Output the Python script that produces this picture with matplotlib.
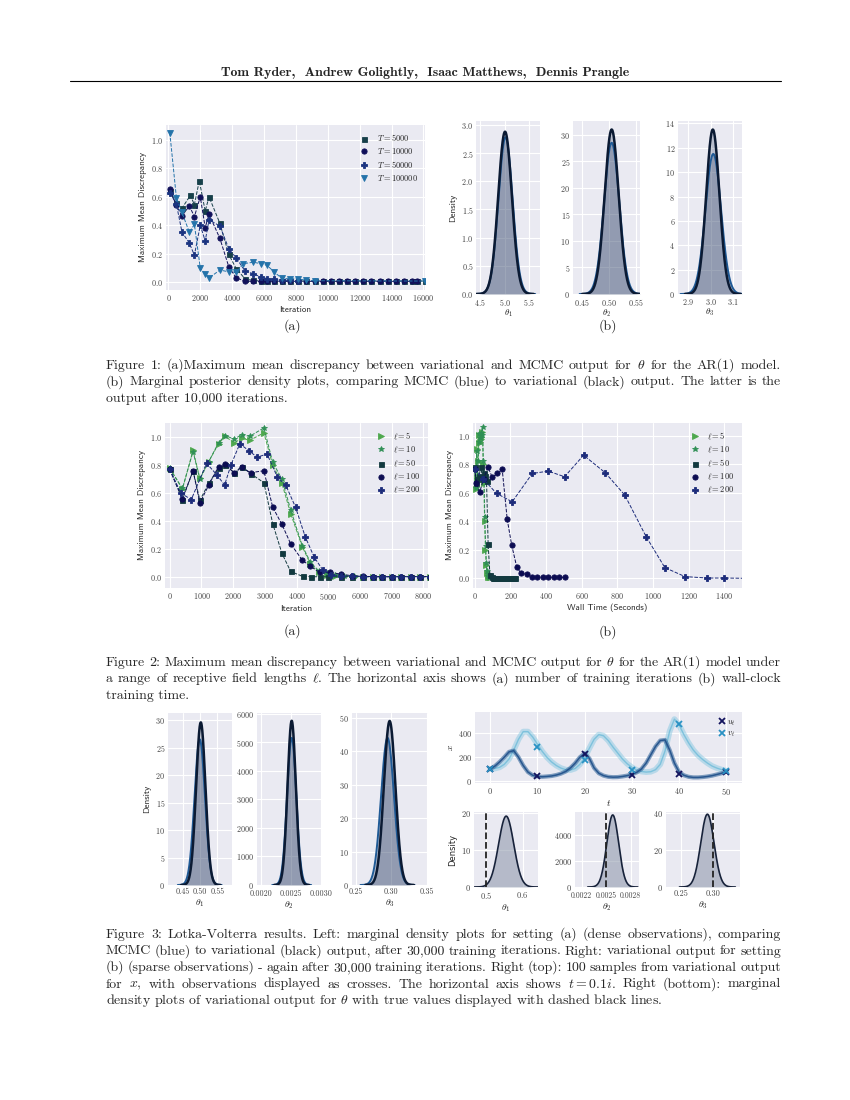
import numpy as np
import matplotlib
matplotlib.use("Agg")
import matplotlib.pyplot as plt
import seaborn as sns

sns.set_style("darkgrid")
plt.rcParams["font.family"] = ["cmr10", "DejaVu Serif"]
plt.rcParams["mathtext.fontset"] = "cm"
plt.rcParams["axes.formatter.use_mathtext"] = True
plt.rcParams["axes.unicode_minus"] = False
plt.rcParams["grid.linewidth"] = 0.8

SANS = ["cmss10", "DejaVu Sans"]
W, H = 850, 1100

# ---------------- Figure 1 (a): MMD vs iteration for different T ----------------
t5000_it = [90, 500, 850, 1380, 1630, 1940, 2310, 2550, 3230, 3790, 4260, 4810,
            5320, 5830, 6200, 6620, 7130, 7640, 8150, 8660, 9170, 9680, 10190,
            10700, 11210, 11720, 12230, 12740, 13250, 13760, 14270, 14780, 15290, 15600, 16100]
t5000_mmd = [0.64, 0.555, 0.52, 0.61, 0.545, 0.713, 0.50, 0.60, 0.414, 0.195, 0.094, 0.024,
             0.012, 0.01, 0.008, 0.008, 0.008, 0.008, 0.008, 0.008, 0.008, 0.008, 0.008,
             0.008, 0.008, 0.008, 0.008, 0.008, 0.008, 0.008, 0.008, 0.008, 0.008, 0.008, 0.008]
t10000_it = [90, 500, 850, 1320, 1630, 2000, 2310, 2550, 3230, 3790, 4260, 4810,
             5320, 5830, 6200, 6620, 7130, 7640, 8150, 8660, 9170, 9680, 10190,
             10700, 11210, 11720, 12230, 12740, 13250, 13760, 14270, 14780, 15290, 15600]
t10000_mmd = [0.654, 0.54, 0.466, 0.536, 0.46, 0.60, 0.384, 0.478, 0.308, 0.108, 0.03, 0.007,
              0.006, 0.006, 0.006, 0.006, 0.006, 0.006, 0.006, 0.006, 0.006, 0.006, 0.006,
              0.006, 0.006, 0.006, 0.006, 0.006, 0.006, 0.006, 0.006, 0.006, 0.006, 0.006]
t50000_it = [90, 500, 850, 1320, 1630, 2000, 2310, 2550, 3230, 3790, 4260, 4810,
             5320, 5830, 6200, 6620, 7130, 7640, 8150]
t50000_mmd = [0.63, 0.55, 0.353, 0.273, 0.19, 0.40, 0.29, 0.438, 0.395, 0.235, 0.17, 0.078,
              0.06, 0.035, 0.025, 0.02, 0.015, 0.012, 0.01]
t100000_it = [90, 500, 850, 1320, 1630, 2000, 2310, 2550, 3230, 3790, 4260, 4710,
              5320, 5830, 6200, 6620, 7130, 7640, 8150, 8660, 9170, 16100]
t100000_mmd = [1.05, 0.595, 0.49, 0.35, 0.407, 0.10, 0.055, 0.03, 0.085, 0.073, 0.07, 0.13,
               0.14, 0.13, 0.118, 0.073, 0.026, 0.024, 0.024, 0.012, 0.01, 0.008]

# ---------------- Figure 1 (b): marginal densities (mean, sd) ----------------
ar_theta_mcmc = [(5.02, 0.1435), (0.505, 0.0140), (3.012, 0.0347)]
ar_theta_var = [(5.01, 0.1385), (0.505, 0.01287), (3.010, 0.02955)]
ar_xlim = [(4.42, 5.72), (0.434, 0.557), (2.855, 3.14)]
ar_ylim = [3.07, 32.6, 14.2]
ar_xticks = [[4.5, 5.0, 5.5], [0.45, 0.50, 0.55], [2.9, 3.0, 3.1]]
ar_yticks = [[0.0, 0.5, 1.0, 1.5, 2.0, 2.5, 3.0], [0, 5, 10, 15, 20, 25, 30],
             [0, 2, 4, 6, 8, 10, 12, 14]]

# ---------------- Figure 2: MMD for receptive field lengths ----------------
l5_it = [0, 400, 735, 950, 1230, 1540, 1750, 2040, 2265, 2520, 2970, 3250, 3540, 3815,
         4180, 4440, 4700, 4950, 5200, 5500, 5800, 6100, 6400, 6700, 7000, 7300, 7600, 7900, 8200]
l5_mmd = [0.777, 0.63, 0.905, 0.706, 0.825, 0.952, 1.005, 0.957, 0.993, 0.976, 1.03, 0.80, 0.67, 0.455,
          0.22, 0.096, 0.036, 0.02, 0.01, 0.008, 0.006, 0.006, 0.006, 0.006, 0.006, 0.006, 0.006, 0.006, 0.006]
l10_it = [0, 400, 735, 950, 1230, 1540, 1750, 2040, 2265, 2520, 2970, 3250, 3540, 3815,
          4180, 4440, 4700, 4950, 5200, 5500, 5800, 6100, 6400, 6700, 7000, 7300, 7600, 7900, 8200]
l10_mmd = [0.777, 0.634, 0.897, 0.70, 0.825, 0.96, 1.01, 0.985, 1.017, 1.005, 1.065, 0.82, 0.70, 0.483,
           0.227, 0.108, 0.048, 0.03, 0.015, 0.01, 0.008, 0.006, 0.006, 0.006, 0.006, 0.006, 0.006, 0.006, 0.006]
l50_it = [0, 400, 735, 950, 1230, 1540, 1750, 2040, 2265, 2550, 2970, 3250, 3540, 3815,
          4200, 4460, 4730, 5000, 5400, 5750, 6100, 6400, 6700, 7000, 7300, 7600, 7900, 8200]
l50_mmd = [0.77, 0.555, 0.76, 0.55, 0.67, 0.777, 0.80, 0.746, 0.79, 0.74, 0.675, 0.383, 0.172, 0.043,
           0.007, 0.005, 0.005, 0.005, 0.005, 0.005, 0.005, 0.005, 0.005, 0.005, 0.005, 0.005, 0.005, 0.005]
l100_it = [0, 400, 735, 950, 1230, 1540, 1750, 2040, 2265, 2550, 2970, 3250, 3540, 3815,
           4180, 4440, 4730, 5050, 5400, 5750, 6100, 6400, 6700, 7000, 7300, 7600, 7900, 8200]
l100_mmd = [0.77, 0.562, 0.76, 0.53, 0.658, 0.79, 0.806, 0.742, 0.785, 0.746, 0.76, 0.50, 0.378, 0.24,
            0.124, 0.079, 0.036, 0.036, 0.024, 0.012, 0.008, 0.006, 0.006, 0.006, 0.006, 0.006, 0.006, 0.006]
l200_it = [0, 350, 680, 1160, 1490, 1730, 1930, 2210, 2490, 2760, 3070, 3400, 3660, 3970,
           4280, 4560, 4830, 5100, 5400, 5750, 6100, 6400, 6700, 7000, 7300, 7600, 7900, 8200]
l200_mmd = [0.77, 0.60, 0.555, 0.813, 0.73, 0.658, 0.80, 0.952, 0.904, 0.856, 0.88, 0.713, 0.658, 0.50,
            0.287, 0.144, 0.053, 0.02, 0.01, 0.008, 0.006, 0.006, 0.006, 0.006, 0.006, 0.006, 0.006, 0.006]

l5_sec = [0, 6, 11, 14, 18, 22, 25, 29, 33, 36, 43, 47, 51, 55, 60, 64, 68, 72, 76, 80, 84, 88, 92]
l5_mmd_t = [0.777, 0.63, 0.905, 0.706, 0.825, 0.952, 1.005, 0.957, 0.993, 0.976, 1.03, 0.80, 0.67,
            0.40, 0.20, 0.096, 0.036, 0.02, 0.01, 0.008, 0.006, 0.006, 0.006]
l10_sec = [0, 6, 11, 15, 19, 23, 26, 30, 34, 38, 44, 48, 52, 56, 61, 65, 69, 73, 77, 81, 85, 89]
l10_mmd_t = [0.777, 0.634, 0.897, 0.70, 0.825, 0.96, 1.01, 0.985, 1.017, 1.005, 1.065, 0.82, 0.70,
             0.43, 0.227, 0.108, 0.048, 0.03, 0.015, 0.01, 0.008, 0.008]
l50_sec = [0, 6, 14, 24, 34, 44, 53, 60, 66, 75, 85, 94, 101, 108, 116, 124, 132, 140, 148,
           156, 164, 172, 180, 188, 196, 204, 212, 220, 228]
l50_mmd_t = [0.78, 0.666, 0.70, 0.72, 0.78, 0.70, 0.74, 0.72, 0.68, 0.24, 0.023, 0.008, 0.005, 0.005,
             0.005, 0.005, 0.005, 0.005, 0.005, 0.005, 0.005, 0.005, 0.005, 0.005, 0.005, 0.005,
             0.005, 0.005, 0.005]
l100_sec = [0, 9, 28, 50, 75, 98, 126, 154, 182, 207, 235, 259, 295, 323, 351, 385, 413, 445, 475, 507]
l100_mmd_t = [0.77, 0.666, 0.607, 0.70, 0.78, 0.708, 0.736, 0.764, 0.414, 0.234, 0.082, 0.035,
              0.028, 0.012, 0.012, 0.007, 0.007, 0.007, 0.007, 0.007]
l200_sec = [0, 45, 122, 210, 323, 413, 504, 611, 733, 842, 962, 1067, 1180, 1306, 1400, 1520]
l200_mmd_t = [0.77, 0.70, 0.596, 0.537, 0.736, 0.752, 0.713, 0.864, 0.74, 0.584, 0.292, 0.075,
              0.012, 0.002, 0.002, 0.0]

# ---------------- Figure 3: Lotka-Volterra ----------------
lv_theta_mcmc = [(0.499, 0.01505), (0.00251, 7.75e-5), (0.295, 0.00907)]
lv_theta_var = [(0.502, 0.01348), (0.00251, 6.94e-5), (0.298, 0.00814)]
lv_xlim = [(0.4075, 0.592), (0.00193, 0.00290), (0.245, 0.352)]
lv_ylim = [31.3, 6020, 51.4]
lv_xticks = [[0.45, 0.50, 0.55], [0.0020, 0.0025, 0.0030], [0.25, 0.30, 0.35]]
lv_yticks = [[0, 5, 10, 15, 20, 25, 30], [0, 1000, 2000, 3000, 4000, 5000, 6000],
             [0, 10, 20, 30, 40, 50]]

lv_t = list(range(51))
lv_u = [100, 125, 160, 200, 245, 255, 200, 130, 75, 48, 38, 35, 38, 42, 50, 62, 80, 110, 150, 200,
        232, 190, 110, 65, 45, 35, 32, 33, 38, 45, 55, 72, 100, 150, 220, 290, 340, 345, 260, 150,
        75, 48, 35, 30, 30, 33, 38, 45, 55, 65, 78]
lv_v = [100, 105, 115, 140, 185, 260, 350, 415, 415, 370, 310, 250, 200, 160, 130, 108, 95, 92, 105,
        140, 195, 275, 350, 390, 380, 340, 285, 235, 185, 145, 115, 92, 80, 75, 78, 95, 140, 250, 420,
        520, 470, 390, 320, 260, 215, 180, 150, 125, 108, 95, 85]
obs_t = [0, 10, 20, 30, 40, 50]
obs_u = [98, 38, 227, 50, 59, 72]
obs_v = [100, 283, 176, 95, 479, 87]

sparse_theta = [(0.555, 0.0207), (0.00258, 7.25e-5), (0.291, 0.0102)]
true_theta = [0.5, 0.0025, 0.30]
sparse_xlim = [(0.467, 0.642), (0.00212, 0.00290), (0.2275, 0.341)]
sparse_ylim = [20.4, 5730, 40.3]
sparse_xticks = [[0.5, 0.6], [0.0022, 0.0025, 0.0028], [0.25, 0.30]]
sparse_yticks = [[0, 10, 20], [0, 2000, 4000], [0, 20, 40]]

# colours
C_T = ["#17404a", "#10105a", "#1b3480", "#2473aa"]
C_L = ["#4ea84e", "#2f8f55", "#12393f", "#0c0c52", "#1c2b7a"]
C_MCMC = "#1f5a96"
C_VAR = "#0b1a33"
C_FILL = "#283c64"


fig = plt.figure(figsize=(W / 100, H / 100), dpi=100)
renderer = fig.canvas.get_renderer()


def axes_px(x0, y0, x1, y1):
    return fig.add_axes([x0 / W, 1 - y1 / H, (x1 - x0) / W, (y1 - y0) / H])


def style(ax, size=5.8):
    ax.tick_params(length=0, pad=2, labelsize=size, colors="#444444")
    for s in ax.spines.values():
        s.set_visible(False)


def gauss(x, mu, sd):
    return np.exp(-0.5 * ((x - mu) / sd) ** 2) / (sd * np.sqrt(2 * np.pi))


def fig_text(x, y, s, **kw):
    return fig.text(x / W, 1 - y / H, s, **kw)


def justify(lines, x0, x1, y0, dy, size=10):
    for i, line in enumerate(lines):
        words = line.split(" ")
        y = y0 + i * dy
        if i == len(lines) - 1:
            fig_text(x0, y, line, fontsize=size, va="baseline")
            continue
        objs = [fig_text(x0, y, w, fontsize=size, va="baseline") for w in words]
        widths = [o.get_window_extent(renderer).width for o in objs]
        gap = (x1 - x0 - sum(widths)) / (len(words) - 1)
        x = x0
        for o, w in zip(objs, widths):
            o.set_x(x / W)
            x += w + gap


def density(ax, params, colors, widths):
    for (mu, sd), col, lw in zip(params, colors, widths):
        xs = np.linspace(mu - 4.2 * sd, mu + 4.2 * sd, 300)
        ys = gauss(xs, mu, sd)
        ax.fill_between(xs, ys, color=C_FILL, alpha=0.26, lw=0)
        ax.plot(xs, ys, color=col, lw=lw)


def mmd_axes(ax, series, colors, markers, labels, sizes):
    for (xs, ys), c, m, lab, ms in zip(series, colors, markers, labels, sizes):
        ax.plot(xs, ys, ls="--", lw=0.7, color=c, marker=m, ms=ms, mew=0.6,
                mec=c, label=lab)
    leg = ax.legend(loc="upper right", fontsize=6, frameon=False, handlelength=1.3,
                    borderaxespad=0.5, labelspacing=0.35)
    for h in leg.legend_handles:
        h.set_linestyle("none")
    ax.set_ylabel("Maximum Mean Discrepancy", family=SANS, fontsize=6.5, labelpad=3)


# header
fig_text(425, 76, "Tom Ryder,  Andrew Golightly,  Isaac Matthews,  Dennis Prangle",
         family=["cmb10", "DejaVu Serif"], fontsize=10, ha="center", va="baseline")
fig.add_artist(plt.Line2D([70 / W, 781 / W], [1 - 81 / H, 1 - 81 / H], color="black", lw=0.8))

# ---- Fig 1a
ax = axes_px(166, 125, 425, 290)
style(ax)
mmd_axes(ax, [(t5000_it, t5000_mmd), (t10000_it, t10000_mmd), (t50000_it, t50000_mmd),
              (t100000_it, t100000_mmd)], C_T, ["s", "o", "P", "v"],
         [r"$T = 5000$", r"$T = 10000$", r"$T = 50000$", r"$T = 100000$"], [3.6, 3.8, 4.4, 4.0])
ax.set_xlim(-150, 16100)
ax.set_ylim(-0.055, 1.105)
ax.set_xticks(range(0, 16001, 2000))
ax.set_yticks([0.0, 0.2, 0.4, 0.6, 0.8, 1.0])
ax.set_xlabel("Iteration", family=SANS, fontsize=6.5, labelpad=2)

# ---- Fig 1b
boxes = [(476, 121, 540, 294), (573, 121, 640, 294), (678, 121, 742, 294)]
for k, b in enumerate(boxes):
    ax = axes_px(*b)
    style(ax)
    density(ax, [ar_theta_mcmc[k], ar_theta_var[k]], [C_MCMC, C_VAR], [1.4, 1.8])
    ax.set_xlim(*ar_xlim[k])
    ax.set_ylim(0, ar_ylim[k])
    ax.set_xticks(ar_xticks[k])
    ax.set_yticks(ar_yticks[k])
    ax.set_xlabel(r"$\theta_%d$" % (k + 1), fontsize=6.5, labelpad=0)
    if k == 0:
        ax.set_ylabel("Density", family=SANS, fontsize=6.5, labelpad=3)

fig_text(292, 330, "(a)", fontsize=10, ha="center", va="baseline")
fig_text(608, 330, "(b)", fontsize=10, ha="center", va="baseline")

justify([r"Figure 1: (a)Maximum mean discrepancy between variational and MCMC output for $\theta$ for the AR(1) model.",
         "(b) Marginal posterior density plots, comparing MCMC (blue) to variational (black) output. The latter is the",
         "output after 10,000 iterations."], 106, 781, 369, 16.3)

# ---- Fig 2a
lab_l = [r"$\ell = 5$", r"$\ell = 10$", r"$\ell = 50$", r"$\ell = 100$", r"$\ell = 200$"]
mk_l = [">", "*", "s", "o", "P"]
ms_l = [3.8, 4.4, 3.6, 3.8, 4.4]
ax = axes_px(165, 423, 428, 588)
style(ax)
mmd_axes(ax, [(l5_it, l5_mmd), (l10_it, l10_mmd), (l50_it, l50_mmd), (l100_it, l100_mmd),
              (l200_it, l200_mmd)], C_L, mk_l, lab_l, ms_l)
ax.set_xlim(-150, 8150)
ax.set_ylim(-0.075, 1.10)
ax.set_xticks(range(0, 8001, 1000))
ax.set_yticks([0.0, 0.2, 0.4, 0.6, 0.8, 1.0])
ax.set_xlabel("Iteration", family=SANS, fontsize=6.5, labelpad=2)

# ---- Fig 2b
ax = axes_px(473, 423, 742, 588)
style(ax)
mmd_axes(ax, [(l5_sec, l5_mmd_t), (l10_sec, l10_mmd_t), (l50_sec, l50_mmd_t), (l100_sec, l100_mmd_t),
              (l200_sec, l200_mmd_t)], C_L, mk_l, lab_l, ms_l)
ax.set_xlim(-10, 1500)
ax.set_ylim(-0.068, 1.09)
ax.set_xticks(range(0, 1401, 200))
ax.set_yticks([0.0, 0.2, 0.4, 0.6, 0.8, 1.0])
ax.set_xlabel("Wall Time (Seconds)", family=SANS, fontsize=6.5, labelpad=2)

fig_text(292, 635, "(a)", fontsize=10, ha="center", va="baseline")
fig_text(608, 636, "(b)", fontsize=10, ha="center", va="baseline")

justify([r"Figure 2: Maximum mean discrepancy between variational and MCMC output for $\theta$ for the AR(1) model under",
         r"a range of receptive field lengths $\ell$. The horizontal axis shows (a) number of training iterations (b) wall-clock",
         "training time."], 106, 781, 666, 16.3)

# ---- Fig 3 left: dense observations
boxes = [(168, 713, 232, 885), (257, 713, 321, 885), (352, 713, 428, 885)]
for k, b in enumerate(boxes):
    ax = axes_px(*b)
    style(ax)
    density(ax, [lv_theta_mcmc[k], lv_theta_var[k]], [C_MCMC, C_VAR], [1.4, 1.8])
    ax.set_xlim(*lv_xlim[k])
    ax.set_ylim(0, lv_ylim[k])
    ax.set_xticks(lv_xticks[k])
    ax.set_yticks(lv_yticks[k])
    ax.xaxis.set_major_formatter(matplotlib.ticker.FormatStrFormatter("%.4f" if k == 1 else "%.2f"))
    ax.set_xlabel(r"$\theta_%d$" % (k + 1), fontsize=7, labelpad=1)
    if k == 0:
        ax.set_ylabel("Density", family=SANS, fontsize=6.5, labelpad=3)
    if k == 1:
        ax.tick_params(axis="x", pad=3.5)

# ---- Fig 3 right top: trajectories
ax = axes_px(475, 712, 742, 783)
style(ax, 6)
ax.plot(lv_t, lv_v, color="#7cc4df", lw=4.2, alpha=0.45, solid_capstyle="round")
ax.plot(lv_t, lv_v, color="#6fbcd9", lw=1.0, alpha=0.8)
ax.plot(lv_t, lv_u, color="#245a92", lw=3.0, alpha=0.55, solid_capstyle="round")
ax.plot(lv_t, lv_u, color="#1f4f8a", lw=1.1, alpha=0.9)
ax.plot(obs_t, obs_u, ls="none", marker="x", ms=5, mew=1.3, color="#14145e", label=r"$u_t$")
ax.plot(obs_t, obs_v, ls="none", marker="x", ms=5, mew=1.3, color="#2a92c4", label=r"$v_t$")
ax.legend(loc="upper right", fontsize=6, frameon=False, handlelength=0.8, handletextpad=0.3,
          borderaxespad=0.3, labelspacing=0.2)
ax.set_xlim(-3.2, 53.3)
ax.set_ylim(-17, 580)
ax.set_xticks([0, 10, 20, 30, 40, 50])
ax.set_yticks([0, 200, 400])
ax.set_xlabel(r"$t$", fontsize=7, labelpad=1)
ax.set_ylabel(r"$x$", fontsize=7, labelpad=2)

# ---- Fig 3 right bottom: sparse observation marginals
boxes = [(474, 812, 538, 887), (575, 812, 639, 887), (666, 812, 740, 887)]
for k, b in enumerate(boxes):
    ax = axes_px(*b)
    style(ax, 6)
    mu, sd = sparse_theta[k]
    xs = np.linspace(mu - 4.2 * sd, mu + 4.2 * sd, 300)
    ys = gauss(xs, mu, sd)
    ax.fill_between(xs, ys, color="#8a94a8", alpha=0.55, lw=0)
    ax.plot(xs, ys, color="#17223a", lw=1.2)
    ax.axvline(true_theta[k], color="#222222", ls="--", lw=1.3)
    ax.set_xlim(*sparse_xlim[k])
    ax.set_ylim(0, sparse_ylim[k])
    ax.set_xticks(sparse_xticks[k])
    ax.set_yticks(sparse_yticks[k])
    if k == 1:
        ax.xaxis.set_major_formatter(matplotlib.ticker.FormatStrFormatter("%.4f"))
        ax.tick_params(axis="x", pad=3.5, labelsize=5.6)
    elif k == 2:
        ax.xaxis.set_major_formatter(matplotlib.ticker.FormatStrFormatter("%.2f"))
    ax.set_xlabel(r"$\theta_%d$" % (k + 1), fontsize=7, labelpad=1)
    if k == 0:
        ax.set_ylabel("Density", family="DejaVu Sans", fontsize=6, labelpad=3)

justify(["Figure 3: Lotka-Volterra results. Left: marginal density plots for setting (a) (dense observations), comparing",
         "MCMC (blue) to variational (black) output, after 30,000 training iterations. Right: variational output for setting",
         "(b) (sparse observations) - again after 30,000 training iterations. Right (top): 100 samples from variational output",
         r"for $x$, with observations displayed as crosses. The horizontal axis shows $t=0.1i$. Right (bottom): marginal",
         r"density plots of variational output for $\theta$ with true values displayed with dashed black lines."],
        106, 781, 938, 16.5)

fig.savefig("out.png", dpi=100)
